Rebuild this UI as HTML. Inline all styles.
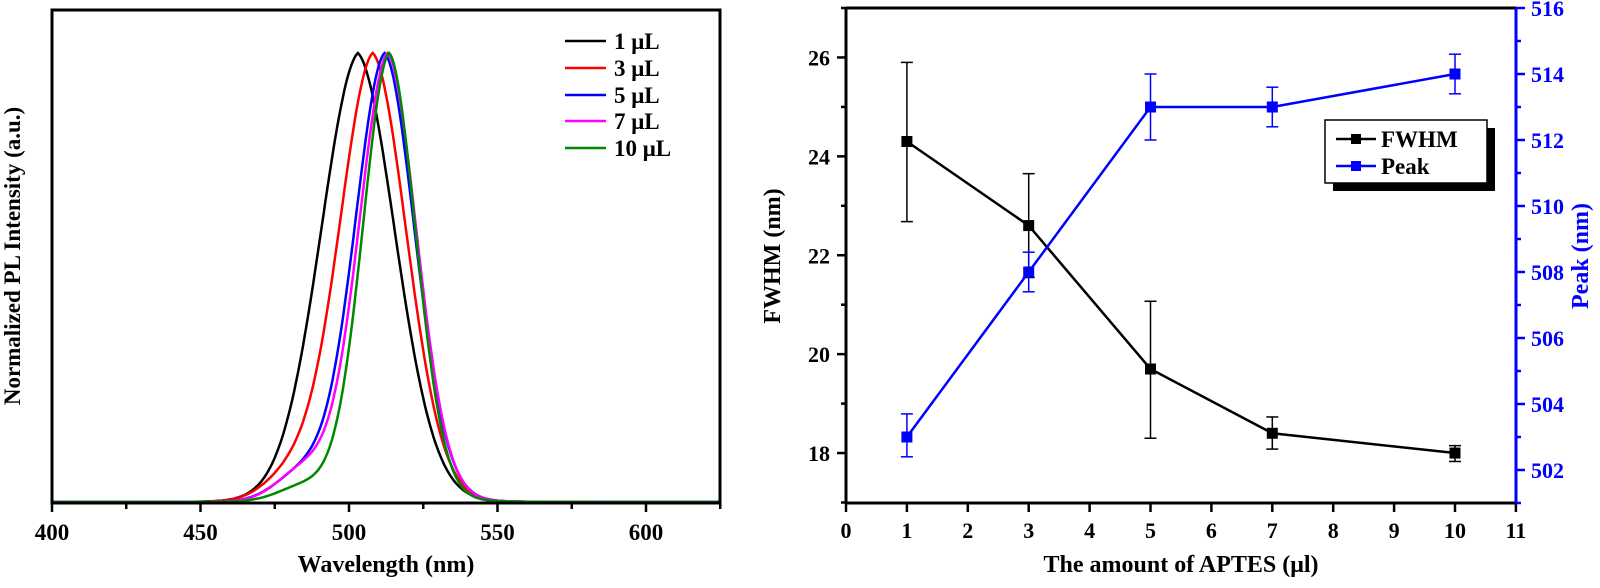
<!DOCTYPE html>
<html><head><meta charset="utf-8"><style>
html,body{margin:0;padding:0;background:#fff;}
svg{display:block;font-family:"Liberation Serif",serif;font-weight:bold;}
</style></head><body>
<svg id="s" width="1600" height="588" xmlns="http://www.w3.org/2000/svg">
<g id="curves"></g>
<rect x="52" y="10" width="668" height="493" fill="none" stroke="#000" stroke-width="3"/>
<g id="lt" stroke="#000" stroke-width="2.5"></g>
<g font-size="23" text-anchor="middle" id="ltl"></g>
<text x="386" y="572" font-size="24" text-anchor="middle">Wavelength (nm)</text>
<text transform="translate(20,256) rotate(-90)" font-size="23" text-anchor="middle">Normalized PL Intensity (a.u.)</text>
<g font-size="23">
<line x1="565" y1="41" x2="606" y2="41" stroke="#000" stroke-width="2.5"/><text x="614" y="49">1 μL</text>
<line x1="565" y1="68" x2="606" y2="68" stroke="#f00" stroke-width="2.5"/><text x="614" y="76">3 μL</text>
<line x1="565" y1="95" x2="606" y2="95" stroke="#00f" stroke-width="2.5"/><text x="614" y="103">5 μL</text>
<line x1="565" y1="121" x2="606" y2="121" stroke="#f0f" stroke-width="2.5"/><text x="614" y="129">7 μL</text>
<line x1="565" y1="148" x2="606" y2="148" stroke="#080" stroke-width="2.5"/><text x="614" y="156">10 μL</text>
</g>
<line x1="846" y1="8" x2="1516" y2="8" stroke="#000" stroke-width="3"/>
<line x1="846" y1="8" x2="846" y2="503" stroke="#000" stroke-width="3"/>
<line x1="846" y1="503" x2="1516" y2="503" stroke="#000" stroke-width="3"/>
<line x1="1516" y1="8" x2="1516" y2="503" stroke="#00f" stroke-width="3"/>
<g id="rt"></g>
<g id="rdata"></g>
<text x="1181" y="572" font-size="24" text-anchor="middle">The amount of APTES (μl)</text>
<text transform="translate(780,256) rotate(-90)" font-size="24" text-anchor="middle">FWHM (nm)</text>
<text transform="translate(1588,256) rotate(-90)" font-size="24" text-anchor="middle" fill="#00f">Peak (nm)</text>
<rect x="1333" y="128" width="162" height="63" fill="#000"/>
<rect x="1325" y="120" width="162" height="63" fill="#fff" stroke="#000" stroke-width="1.5"/>
<line x1="1336" y1="139" x2="1376" y2="139" stroke="#000" stroke-width="2.5"/><rect x="1351" y="134" width="10" height="10" fill="#000"/>
<text x="1381" y="147" font-size="23">FWHM</text>
<line x1="1336" y1="166" x2="1376" y2="166" stroke="#00f" stroke-width="2.5"/><rect x="1351" y="161" width="10" height="10" fill="#00f"/>
<text x="1381" y="174" font-size="23">Peak</text>
</svg>
<script>
var NS="http://www.w3.org/2000/svg";
function el(p,t,a,txt){var e=document.createElementNS(NS,t);for(var k in a)e.setAttribute(k,a[k]);if(txt!==undefined)e.textContent=txt;p.appendChild(e);return e;}
var lt=document.getElementById('lt'),ltl=document.getElementById('ltl');
function X(w){return 52+(w-400)*148.5/50;}
for(var w=400;w<=625;w+=25){var x=X(w);el(lt,'line',{x1:x,y1:503,x2:x,y2:w%50==0?512:509});
 if(w%50==0)el(ltl,'text',{x:x,y:540},String(w));}
var cg=document.getElementById('curves');
var specs=[["#000",503,31,0],["#f00",508,28,0.05],["#00f",512,25,0.06],["#f0f",513,24,0.07],["#080",513.5,22,0.035]];
specs.forEach(function(s){
 var d="",c=s[1],f=s[2],sg=f/2.3548,g=f/2;
 for(var w=400;w<=625;w+=0.5){
  var G=Math.exp(-0.5*Math.pow((w-c)/sg,2)),L=1/(1+Math.pow((w-c)/g,2));
  var v=0.88*G+0.12*L*Math.exp(-Math.abs(w-c)/20);
  v+=s[3]*Math.exp(-0.5*Math.pow((w-(c-28))/9,2));
  var y=502-449*Math.min(v,1);
  d+=(d?"L":"M")+X(w).toFixed(1)+" "+y.toFixed(1);}
 el(cg,'path',{d:d,fill:"none",stroke:s[0],"stroke-width":2.5});
});
var rt=document.getElementById('rt');
function RX(v){return 846+v*60.9;}
function FY(v){return 502.5-(v-17)*49.45;}
function PY(v){return 503-(v-501)*33;}
for(var i=0;i<=11;i++){var x=RX(i);el(rt,'line',{x1:x,y1:503,x2:x,y2:512,stroke:"#000","stroke-width":2.5});
 el(rt,'text',{x:x,y:538,"font-size":22,"text-anchor":"middle"},String(i));}
for(var v=17;v<=27;v++){var y=FY(v);el(rt,'line',{x1:846,y1:y,x2:v%2==0?837:841,y2:y,stroke:"#000","stroke-width":2.5});
 if(v%2==0)el(rt,'text',{x:830,y:y+8,"font-size":22,"text-anchor":"end"},String(v));}
for(var v=501;v<=516;v++){var y=PY(v);el(rt,'line',{x1:1516,y1:y,x2:v%2==0?1525:1521,y2:y,stroke:"#00f","stroke-width":2.5});
 if(v%2==0)el(rt,'text',{x:1531,y:y+8,"font-size":22,fill:"#00f"},String(v));}
var rd=document.getElementById('rdata');
function series(pts,fy,col){
 var d=pts.map(function(p,i){return (i?"L":"M")+RX(p[0])+" "+fy(p[1]);}).join("");
 el(rd,'path',{d:d,fill:"none",stroke:col,"stroke-width":2.5});
 pts.forEach(function(p){var x=RX(p[0]);
  el(rd,'line',{x1:x,y1:fy(p[2]),x2:x,y2:fy(p[3]),stroke:col,"stroke-width":1.5});
  el(rd,'line',{x1:x-6,y1:fy(p[2]),x2:x+6,y2:fy(p[2]),stroke:col,"stroke-width":1.5});
  el(rd,'line',{x1:x-6,y1:fy(p[3]),x2:x+6,y2:fy(p[3]),stroke:col,"stroke-width":1.5});
  el(rd,'rect',{x:x-5.5,y:fy(p[1])-5.5,width:11,height:11,fill:col});});
}
series([[1,24.3,22.68,25.9],[3,22.6,21.55,23.65],[5,19.7,18.3,21.07],[7,18.4,18.08,18.73],[10,18.0,17.83,18.15]],FY,"#000");
series([[1,503,502.4,503.7],[3,508,507.4,508.6],[5,513,512,514],[7,513,512.4,513.6],[10,514,513.4,514.6]],PY,"#00f");
</script>
</body></html>
